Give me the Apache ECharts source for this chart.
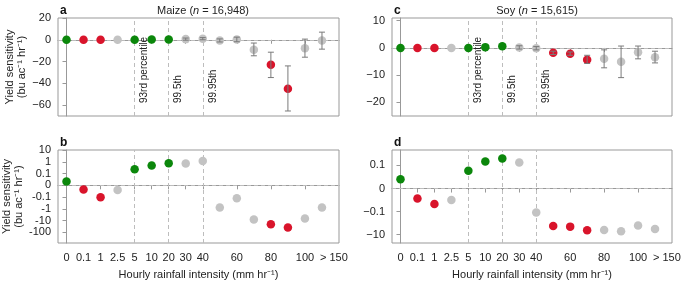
<!DOCTYPE html>
<html>
<head>
<meta charset="utf-8">
<style>
  html, body { margin: 0; padding: 0; background: #fff; }
  #chart { width: 685px; height: 281px; }
</style>
<script src="https://cdn.jsdelivr.net/npm/echarts@6/dist/echarts.min.js"></script>
</head>
<body>
<div id="chart"></div>
<script>
// x bins (one point per bin, equally spaced)
const binPos = [0, 1, 2, 3, 4, 5, 6, 7, 8, 9, 10, 11, 12, 13, 14, 15];
const xTickLabels = ['0', '0.1', '1', '2.5', '5', '10', '20', '30', '40', '60', '80', '100', '> 150'];
const xLabelPos = [0, 1, 2, 3, 4, 5, 6, 7, 8, 10, 12, 14, 15.7];
const xTickPos = [0, 1, 2, 3, 4, 5, 6, 7, 8, 10, 12, 14];
const percentilePos = [4, 6, 8];
const percentileLabels = ['93rd percentile', '99.5th', '99.95th'];

// panel a: maize, linear
const maizeVal = [0, 0, 0, 0, 0, 0.2, 0.3, 0.6, 1, -0.6, 0.3, -9.2, -23, -45, -7.7, -0.6];
const maizeLow = [null, null, null, null, null, null, null, -0.4, 0, -2, -1.8, -14.7, -34.7, -65.4, -16, -8.6];
const maizeHigh = [null, null, null, null, null, null, null, 1.6, 2, 0.8, 2.4, -3, -11.4, -24, 0.6, 7];
const maizeSig = ['g', 'r', 'r', 'n', 'g', 'g', 'g', 'n', 'n', 'n', 'n', 'n', 'r', 'r', 'n', 'n'];
const aTicks = [-60, -40, -20, 0, 20];

// panel b: maize, symlog
const maizeLogVal = [0.032, -0.035, -0.105, -0.04, 0.23, 0.49, 0.76, 0.71, 1.15, -0.78, -0.126, -7.9, -20, -38, -6.6, -0.78];
const maizeLogSig = ['g', 'r', 'r', 'n', 'g', 'g', 'g', 'n', 'n', 'n', 'n', 'n', 'r', 'r', 'n', 'n'];
const bTickVals = [-100, -10, -1, -0.1, 0, 0.1, 1, 10];
const bTickLabels = ['-100', '-10', '-1', '-0.1', '0', '0.1', '1', '10'];

// panel c: soy, linear
const soyVal = [0, 0, 0, 0, 0, 0.3, 0.6, 0.2, -0.1, -1.8, -2.1, -4.3, -4.0, -5.1, -1.6, -3.4];
const soyLow = [null, null, null, null, null, null, null, -0.4, -0.7, -2.4, -2.7, -5.7, -7.3, -10.9, -4, -5.5];
const soyHigh = [null, null, null, null, null, null, null, 0.8, 0.5, -1.2, -1.5, -2.7, -0.7, 0.7, 0.7, -1.2];
const soySig = ['g', 'r', 'r', 'n', 'g', 'g', 'g', 'n', 'n', 'r', 'r', 'r', 'n', 'n', 'n', 'n'];
const cTicks = [-20, -10, 0, 10];

// panel d: soy, symlog
const soyLogVal = [0.04, -0.043, -0.067, -0.05, 0.077, 0.22, 0.4, 0.18, -0.12, -1.74, -2.0, -4.2, -3.9, -5.0, -1.6, -3.2];
const soyLogSig = ['g', 'r', 'r', 'n', 'g', 'g', 'g', 'n', 'n', 'r', 'r', 'r', 'n', 'n', 'n', 'n'];
const dTickVals = [-10, -0.1, 0, 0.1];
const dTickLabels = ['\u221210', '\u22120.1', '0', '0.1'];

const sigColor = { g: '#0b870b', r: '#d9142b', n: '#c3c3c3' };
const FONT = 'Liberation Sans, Arial, sans-serif';
const MINUS = '\u2212';

// axis transforms for the broken log scales
function symB(v) {
  const a = Math.abs(v);
  if (a < 0.1) return v / 0.1;
  return Math.sign(v) * (Math.log10(a) + 2);
}
function symD(v) {
  const a = Math.abs(v);
  if (a <= 0.1) return v / 0.1;
  return Math.sign(v) * (1 + Math.log10(a / 0.1) / 2);
}

const chart = echarts.init(document.getElementById('chart'));

const grids = [
  { left: 58, top: 18, width: 281, height: 98 },
  { left: 58, top: 150, width: 281, height: 98 },
  { left: 392, top: 18, width: 280, height: 98 },
  { left: 392, top: 150, width: 280, height: 98 }
].map(g => Object.assign(g, { show: true, borderColor: '#999', borderWidth: 1, backgroundColor: 'transparent' }));

function xAxis(gridIndex, withLabels) {
  return {
    type: 'value', gridIndex, min: -0.5, max: 16,
    axisLine: { lineStyle: { color: '#999' } },
    axisTick: { show: true, length: 4, customValues: xTickPos, lineStyle: { color: '#999' } },
    axisLabel: withLabels ? {
      show: true, customValues: xLabelPos, margin: 9,
      color: '#222', fontFamily: FONT, fontSize: 11,
      formatter: v => xTickLabels[xLabelPos.indexOf(v)] || ''
    } : { show: false },
    splitLine: { show: false },
    name: withLabels ? 'Hourly rainfall intensity (mm hr\u207B\u00B9)' : '',
    nameLocation: 'middle', nameGap: 26,
    nameTextStyle: { color: '#222', fontFamily: FONT, fontSize: 11 }
  };
}

function yAxis(gridIndex, min, max, ticks, fmt, name) {
  return {
    type: 'value', gridIndex, min, max,
    axisLine: { show: true, lineStyle: { color: '#999' } },
    axisTick: { show: true, length: 4, customValues: ticks, lineStyle: { color: '#999' } },
    axisLabel: { customValues: ticks, formatter: fmt, margin: 7, color: '#222', fontFamily: FONT, fontSize: 11 },
    splitLine: { show: false },
    name: name || '', nameLocation: 'middle', nameGap: 30,
    nameTextStyle: { color: '#222', fontFamily: FONT, fontSize: 11, lineHeight: 12 }
  };
}

const linFmt = v => (v < 0 ? MINUS + Math.abs(v) : String(v));
const yName = 'Yield sensitivity\n(bu ac\u207B\u00B9 hr\u207B\u00B9)';

// dashed reference lines, kept under the points
function guideSeries(k, showPctLabels) {
  return {
    type: 'scatter', xAxisIndex: k, yAxisIndex: k, z: 1, silent: true,
    data: [],
    markLine: {
      silent: true, symbol: 'none', animation: false, z: 1,
      lineStyle: { color: '#bdbdbd', type: [4, 3], width: 1 },
      data: [
        { yAxis: 0, label: { show: false } }
      ].concat(percentilePos.map((p, j) => ({
        xAxis: p,
        label: showPctLabels ? {
          show: true, formatter: percentileLabels[j], position: 'insideStartBottom',
          color: '#222', fontFamily: FONT, fontSize: 10, distance: [13, 5]
        } : { show: false }
      })))
    }
  };
}

function pointsSeries(k, vals, sig, tf) {
  return {
    type: 'scatter', xAxisIndex: k, yAxisIndex: k,
    symbolSize: 8.5, z: 3,
    data: vals.map((v, i) => ({ value: [binPos[i], tf(v)], itemStyle: { color: sigColor[sig[i]], opacity: 1 } }))
  };
}

function errorSeries(k, low, high) {
  return {
    type: 'custom', xAxisIndex: k, yAxisIndex: k, z: 4, silent: true,
    data: low.map((l, i) => [binPos[i], l, high[i]]).filter(d => d[1] !== null),
    renderItem: (params, api) => {
      const lo = api.coord([api.value(0), api.value(1)]);
      const hi = api.coord([api.value(0), api.value(2)]);
      const style = { stroke: '#7a7a7a', lineWidth: 1 };
      return {
        type: 'group',
        children: [
          { type: 'line', shape: { x1: lo[0], y1: lo[1], x2: hi[0], y2: hi[1] }, style },
          { type: 'line', shape: { x1: lo[0] - 3, y1: lo[1], x2: lo[0] + 3, y2: lo[1] }, style },
          { type: 'line', shape: { x1: hi[0] - 3, y1: hi[1], x2: hi[0] + 3, y2: hi[1] }, style }
        ]
      };
    }
  };
}

const ident = v => v;

const titleStyle = { fontFamily: FONT, fontSize: 11, color: '#222', fontWeight: 'normal' };
const letterStyle = { fontFamily: FONT, fontSize: 12, fontWeight: 'bold', color: '#111' };

const option = {
  animation: false,
  backgroundColor: '#fff',
  title: [
    { text: 'a', left: 55, top: 0, textStyle: letterStyle },
    { text: 'b', left: 55, top: 132, textStyle: letterStyle },
    { text: 'c', left: 389, top: 0, textStyle: letterStyle },
    { text: 'd', left: 389, top: 132, textStyle: letterStyle },
    {
      text: '{t|Maize (}{i|n}{t| = 16,948)}', left: 198, top: 0, textAlign: 'center',
      textStyle: { rich: { t: titleStyle, i: Object.assign({}, titleStyle, { fontStyle: 'italic' }) } }
    },
    {
      text: '{t|Soy (}{i|n}{t| = 15,615)}', left: 532, top: 0, textAlign: 'center',
      textStyle: { rich: { t: titleStyle, i: Object.assign({}, titleStyle, { fontStyle: 'italic' }) } }
    }
  ],
  grid: grids,
  xAxis: [xAxis(0, false), xAxis(1, true), xAxis(2, false), xAxis(3, true)],
  yAxis: [
    yAxis(0, -70, 20, aTicks, linFmt, yName),
    yAxis(1, -4.9, 3, bTickVals.map(symB), v => bTickLabels[bTickVals.map(symB).indexOf(v)] || '', yName),
    yAxis(2, -25, 11, cTicks, linFmt),
    yAxis(3, -2.36, 1.67, dTickVals.map(symD), v => dTickLabels[dTickVals.map(symD).indexOf(v)] || '')
  ],
  series: [
    guideSeries(0, true),
    pointsSeries(0, maizeVal, maizeSig, ident),
    errorSeries(0, maizeLow, maizeHigh),
    guideSeries(1, false),
    pointsSeries(1, maizeLogVal, maizeLogSig, symB),
    guideSeries(2, true),
    pointsSeries(2, soyVal, soySig, ident),
    errorSeries(2, soyLow, soyHigh),
    guideSeries(3, false),
    pointsSeries(3, soyLogVal, soyLogSig, symD)
  ]
};

chart.setOption(option);
window.addEventListener('resize', () => chart.resize());
</script>
</body>
</html>
